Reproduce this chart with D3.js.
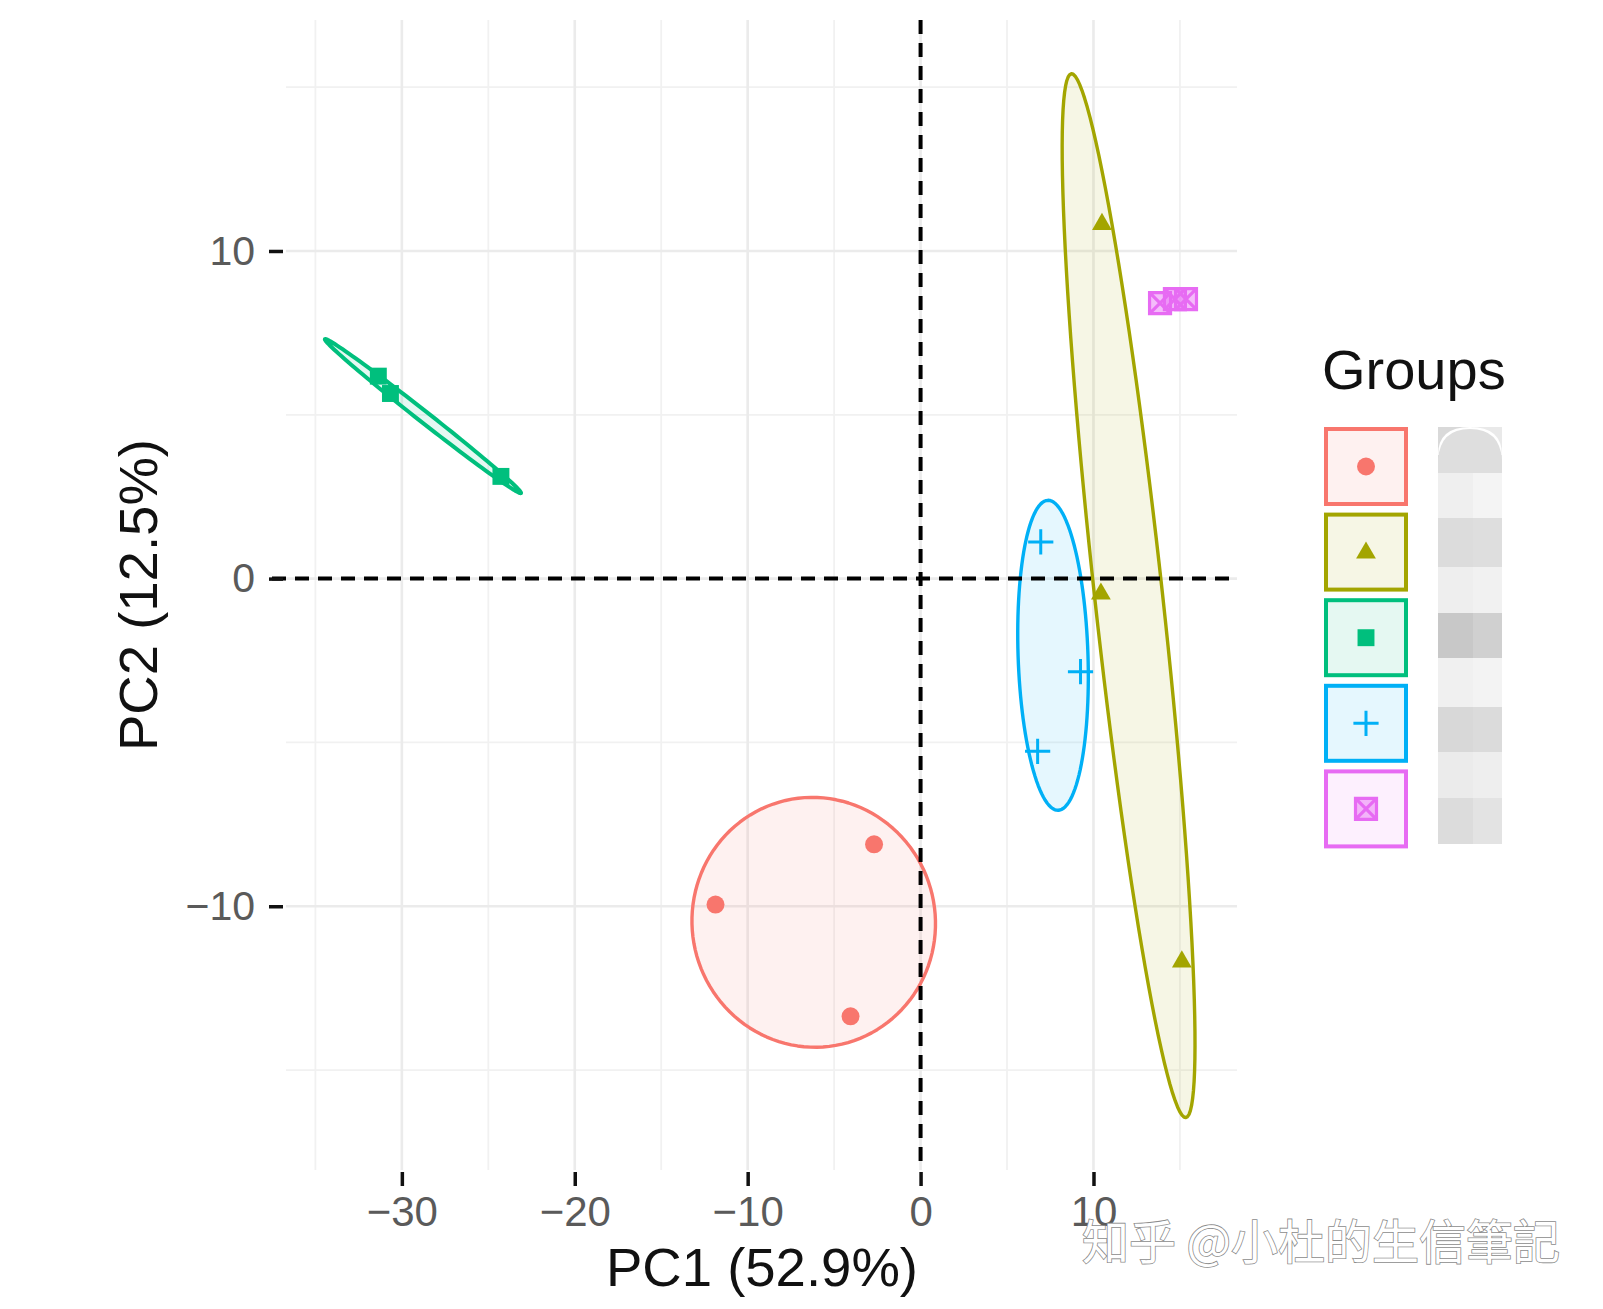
<!DOCTYPE html>
<html><head><meta charset="utf-8">
<script src="https://cdn.jsdelivr.net/npm/d3@7"></script>
<style>body{margin:0;background:#fff;overflow:hidden}</style>
</head><body><svg id="c" width="1603" height="1309"></svg>
<script>
// ---------- data ----------
const groups = ["G1","G2","G3","G4","G5"];
const groupColors = ["#F8766D","#A3A500","#00BF7D","#00B0F6","#E76BF3"];
const groupShapes = ["circle","triangle","square","plus","squareX"];
const pointGroup = [0,0,0, 1,1,1, 2,2,2, 3,3,3, 4,4,4];
const pc1 = [-2.69,-11.86,-4.05, 10.49,10.43,15.11, -31.36,-30.66,-24.27, 6.95,9.25,6.77, 13.85,14.71,15.35];
const pc2 = [-8.11,-9.95,-13.36, 10.84,-0.44,-11.67, 6.18,5.65,3.12, 1.12,-2.84,-5.27, 8.41,8.53,8.53];
// ellipses: centre + two conjugate half-axes (data units)
const ellipseGroup = [0,1,2,3];
const ellipseCx = [-6.18, 12.03, -28.78, 7.66];
const ellipseCy = [-10.49, -0.52, 4.96, -2.34];
const ellipseAx = [7.04, -3.31, 5.67, -0.295];
const ellipseAy = [-0.15, 15.93, -2.35, 4.73];
const ellipseBx = [0.2, 1.95, 0.2, 2.02];
const ellipseBy = [3.81, 0.11, 0.13, 0.03];
const xTicks = [-30,-20,-10,0,10];
const yTicks = [-10,0,10];
const xMinor = [-35,-25,-15,-5,5,15];
const yMinor = [-15,-5,5,15];
const xTitle = "PC1 (52.9%)";
const yTitle = "PC2 (12.5%)";
const legendTitle = "Groups";
const watermark = "知乎 @小杜的生信筆記";

// ---------- layout ----------
const svg = d3.select("#c");
const P = {left:286, right:1237, top:20, bottom:1170};
const x = d3.scaleLinear().domain([-36.7, 18.3]).range([P.left, P.right]);
const y = d3.scaleLinear().domain([-18.05, 17.05]).range([P.bottom, P.top]);
const font = "'Liberation Sans', Arial, Helvetica, sans-serif";
const fmt = d => (d < 0 ? "\u2212" + Math.abs(d) : String(d));

svg.append("rect").attr("width",1603).attr("height",1309).attr("fill","#fff");

// grid
const g = svg.append("g");
g.selectAll(".vmin").data(xMinor).join("line")
  .attr("x1",d=>x(d)).attr("x2",d=>x(d)).attr("y1",P.top).attr("y2",P.bottom)
  .attr("stroke","#f1f1f1").attr("stroke-width",1.8);
g.selectAll(".hmin").data(yMinor).join("line")
  .attr("y1",d=>y(d)).attr("y2",d=>y(d)).attr("x1",P.left).attr("x2",P.right)
  .attr("stroke","#f1f1f1").attr("stroke-width",1.8);
g.selectAll(".vmaj").data(xTicks).join("line")
  .attr("x1",d=>x(d)).attr("x2",d=>x(d)).attr("y1",P.top).attr("y2",P.bottom)
  .attr("stroke","#ebebeb").attr("stroke-width",2.6);
g.selectAll(".hmaj").data(yTicks).join("line")
  .attr("y1",d=>y(d)).attr("y2",d=>y(d)).attr("x1",P.left).attr("x2",P.right)
  .attr("stroke","#ebebeb").attr("stroke-width",2.6);

// ellipses
const tSteps = d3.range(0, 361, 3).map(a => a*Math.PI/180);
const line = d3.line().curve(d3.curveLinearClosed);
const eg = svg.append("g");
ellipseGroup.forEach((gi, i) => {
  const pts = tSteps.map(t => [
    x(ellipseCx[i] + ellipseAx[i]*Math.cos(t) + ellipseBx[i]*Math.sin(t)),
    y(ellipseCy[i] + ellipseAy[i]*Math.cos(t) + ellipseBy[i]*Math.sin(t))
  ]);
  eg.append("path").attr("d", line(pts))
    .attr("fill", groupColors[gi]).attr("fill-opacity", 0.1)
    .attr("stroke", groupColors[gi]).attr("stroke-width", gi===2 ? 4 : 3.4)
    .attr("stroke-linejoin","round");
});

// symbol drawing
function drawShape(sel, shape, color, cx, cy, s) {
  if (shape === "circle") {
    sel.append("circle").attr("cx",cx).attr("cy",cy).attr("r",s*0.5).attr("fill",color);
  } else if (shape === "triangle") {
    const h = s*0.95, w = s*1.1;
    sel.append("path").attr("d",`M${cx},${cy-h*0.62}L${cx+w/2},${cy+h*0.38}L${cx-w/2},${cy+h*0.38}Z`).attr("fill",color);
  } else if (shape === "square") {
    sel.append("rect").attr("x",cx-s*0.47).attr("y",cy-s*0.47).attr("width",s*0.94).attr("height",s*0.94).attr("fill",color);
  } else if (shape === "plus") {
    const a = s*0.7;
    sel.append("path").attr("d",`M${cx-a},${cy}H${cx+a}M${cx},${cy-a}V${cy+a}`)
      .attr("stroke",color).attr("stroke-width",3).attr("fill","none");
  } else if (shape === "squareX") {
    const a = s*0.5;
    sel.append("path").attr("d",`M${cx-a},${cy-a}H${cx+a}V${cy+a}H${cx-a}ZM${cx-a},${cy-a}L${cx+a},${cy+a}M${cx+a},${cy-a}L${cx-a},${cy+a}`)
      .attr("stroke",color).attr("stroke-width",3.2).attr("fill",color).attr("fill-opacity",0.45);
  }
}

// points
const pg = svg.append("g");
pc1.forEach((v, i) => {
  const gi = pointGroup[i];
  drawShape(pg, groupShapes[gi], groupColors[gi], x(v), y(pc2[i]), gi===4 ? 21 : 18);
});

// dashed reference lines
svg.append("line").attr("x1",x(0)).attr("x2",x(0)).attr("y1",P.top).attr("y2",P.bottom)
  .attr("stroke","#000").attr("stroke-width",4).attr("stroke-dasharray","14,9");
svg.append("line").attr("x1",P.left-14).attr("x2",P.right-8).attr("y1",y(0)).attr("y2",y(0))
  .attr("stroke","#000").attr("stroke-width",4).attr("stroke-dasharray","14,9");

// axes
const xAxis = d3.axisBottom(x).tickValues(xTicks).tickSize(14).tickPadding(10).tickFormat(fmt);
const xa = svg.append("g").attr("transform",`translate(0,${P.bottom+2})`).call(xAxis);
xa.select(".domain").remove();
xa.selectAll(".tick line").attr("stroke","#111").attr("stroke-width",3.5);
xa.selectAll(".tick text").attr("font-family",font).attr("font-size",42).attr("fill","#5a5a5a");

const yAxis = d3.axisLeft(y).tickValues(yTicks).tickSize(14).tickPadding(14).tickFormat(fmt);
const ya = svg.append("g").attr("transform",`translate(${P.left-3},0)`).call(yAxis);
ya.select(".domain").remove();
ya.selectAll(".tick line").attr("stroke","#111").attr("stroke-width",3.5);
ya.selectAll(".tick text").attr("font-family",font).attr("font-size",41).attr("fill","#5a5a5a");

// titles
svg.append("text").attr("x",762).attr("y",1286).attr("text-anchor","middle")
  .attr("font-family",font).attr("font-size",54.5).attr("fill","#111").text(xTitle);
svg.append("text").attr("transform","translate(157,595) rotate(-90)").attr("text-anchor","middle")
  .attr("font-family",font).attr("font-size",54.5).attr("fill","#111").text(yTitle);

// legend
const L = {x:1324, y:427, w:84, h:79, step:85.6};
svg.append("text").attr("x",L.x-2).attr("y",389).attr("font-family",font).attr("font-size",56)
  .attr("fill","#111").text(legendTitle);
const lg = svg.append("g");
groups.forEach((name, i) => {
  const top = L.y + i*L.step;
  lg.append("rect").attr("x",L.x+2).attr("y",top+2).attr("width",L.w-4).attr("height",L.h-4)
    .attr("fill",groupColors[i]).attr("fill-opacity",0.1)
    .attr("stroke",groupColors[i]).attr("stroke-width",4);
  drawShape(lg, groupShapes[i], groupColors[i], L.x+L.w/2, top+L.h/2, groupShapes[i]==="squareX"?21:18);
});
// blurred (mosaic) legend labels
const mos = [[427,46,"#d9d9d9","#e9e9e9"],[473,45,"#efefef","#f4f4f4"],[518,49,"#dcdcdc","#dedede"],
  [567,46,"#eeeeee","#f1f1f1"],[613,45,"#c8c8c8","#d0d0d0"],[658,49,"#f0f0f0","#f3f3f3"],
  [707,45,"#d8d8d8","#dbdbdb"],[752,46,"#ebebeb","#eeeeee"],[798,46,"#dcdcdc","#e3e3e3"]];
const mg = lg.append("g");
mos.forEach(r => {
  mg.append("rect").attr("x",1438).attr("y",r[0]).attr("width",35).attr("height",r[1]).attr("fill",r[2]);
  mg.append("rect").attr("x",1473).attr("y",r[0]).attr("width",29).attr("height",r[1]).attr("fill",r[3]);
});
mg.append("path").attr("d","M1438,455 Q1438,427 1470,427 Q1502,427 1502,455 Z").attr("fill","#fff");
mg.append("path").attr("d","M1438,460 Q1440,429 1470,429 Q1500,429 1502,460 V473 H1438 Z").attr("fill","#dedede");

// watermark
svg.append("text").attr("x",1082).attr("y",1259)
  .attr("font-family","'Noto Sans CJK SC', 'Noto Sans CJK TC', sans-serif").attr("font-size",47)
  .attr("fill","#fff").attr("stroke","#8c8c8c").attr("stroke-width",1.6).attr("paint-order","stroke")
  .text(watermark);
</script></body></html>
